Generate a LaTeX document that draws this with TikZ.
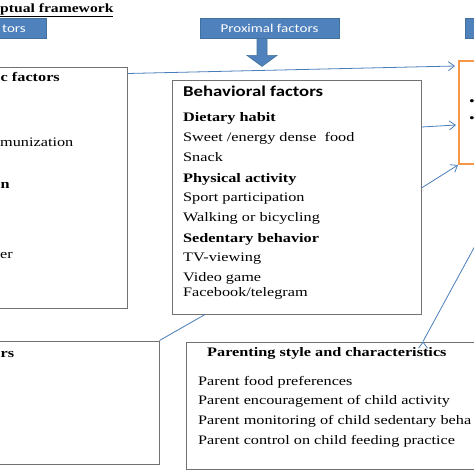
\documentclass[tikz,border=0pt]{standalone}
\usepackage{fontspec}
\setmainfont{Liberation Serif}[FakeStretch=1.25]
\newfontfamily\calibfont{Carlito}[FakeStretch=1.25]
\usepackage{xcolor}
\usepackage{tikz}
\usetikzlibrary{arrows.meta,calc,positioning}

\definecolor{hdrblue}{HTML}{4F81BD}
\definecolor{hdredge}{HTML}{41719C}
\definecolor{linkblue}{HTML}{4A7EBB}
\definecolor{outorange}{HTML}{F79646}
\definecolor{boxgray}{HTML}{767171}

\begin{document}
\begin{tikzpicture}[x=1pt,y=-1pt]
			\tikzstyle{hdr}=[draw=hdredge, fill=hdrblue, line width=0.8pt, inner sep=0pt, minimum height=20pt, text=white, font=\calibfont\fontsize{12}{14}\selectfont]
			\tikzstyle{frame}=[draw=boxgray, line width=1pt, inner sep=0pt]
			\tikzstyle{item}=[anchor=base west, inner sep=0pt, font=\fontsize{13}{15}\selectfont]
			\tikzstyle{head}=[item, font=\bfseries\fontsize{13}{15}\selectfont]
			\tikzstyle{link}=[draw=linkblue, line width=0.8pt]
			
			\useasboundingbox (0,0) rectangle (474,474);
			
			\node[anchor=base west, inner sep=0pt, font=\bfseries\fontsize{12.5}{15}\selectfont] (title) at (0,12.5) {\underline{ptual framework}};
			
			% header boxes
			\node[hdr, minimum width=106pt] (distal) at (-7,28) {};
			\node[anchor=base east, inner sep=0pt, text=white, font=\calibfont\fontsize{12}{14}\selectfont] (distaltxt) at (26,32) {tors};
			\node[hdr, minimum width=139pt] (prox) at (269.5,28) {Proximal factors};
			\node[hdr, minimum width=120pt] (outhdr) at (525,28) {};
			
			\coordinate (proxdown) at ([xshift=-7.5pt]prox.south);
			\filldraw[fill=hdrblue, draw=hdredge, line width=0.6pt] (proxdown) ++(-5,0) -- ++(0,17) -- ++(-10,0) -- ++(15,11) -- ++(15,-11) -- ++(-10,0) -- ++(0,-17) -- cycle;
			
			% outcome
			\node[draw=outorange, line width=2pt, inner sep=0pt, minimum width=120pt, minimum height=103pt] (outcome) at (519,112.5) {};
			\node[anchor=west, inner sep=0pt, font=\fontsize{13}{15}\selectfont] (bul1) at (469,103) {\textbullet};
			\node[anchor=west, inner sep=0pt, font=\fontsize{13}{15}\selectfont] (bul2) at (469,120) {\textbullet};
			
			% frames
			\node[frame, minimum width=137pt, minimum height=241pt] (context) at (58.5,187.5) {};
			\node[frame, minimum width=249pt, minimum height=234pt] (behav) at (296.5,197) {};
			\node[frame, minimum width=169pt, minimum height=123pt] (botleft) at (74.5,402.5) {};
			\node[frame, minimum width=314pt, minimum height=127pt] (parent) at (343,405.5) {};
			
			% left frame
			\node[head] (ctxhead) at (0.5,81) {c factors};
			\node[item] (ctximm) at (0,146) {munization};
			\node[head] (ctxn) at (0.5,188) {n};
			\node[item, anchor=base east] (ctxer) at (13,258) {er};
			\node[head] (botrs) at (0.5,357) {rs};
			
			% behavioral frame
			\node[item, font=\calibfont\bfseries\fontsize{15}{18}\selectfont] (bhead) at (183,96) {Behavioral factors};
			\node[head] (diet) at (183,121) {Dietary habit};
			\node[item] (sweet) at (183,141) {Sweet /energy dense\ \ food};
			\node[item] (snack) at (183,161) {Snack};
			\node[head] (phys) at (183,182) {Physical activity};
			\node[item] (sport) at (183,201) {Sport participation};
			\node[item] (walk) at (183,221) {Walking or bicycling};
			\node[head] (sed) at (183,242) {Sedentary behavior};
			\node[item] (tv) at (183,261) {TV-viewing};
			\node[item] (video) at (183,281) {Video game};
			\node[item] (fb) at (183,296) {Facebook/telegram};
			
			% parenting frame
			\node[head] (phead) at (207,356) {Parenting style and characteristics};
			\node[item] (pfood) at (198,385) {Parent food preferences};
			\node[item] (penc) at (198,404) {Parent encouragement of child activity};
			\node[item] (pmon) at (198,424) {Parent monitoring of child sedentary beha};
			\node[item] (pctl) at (198,444) {Parent control on child feeding practice};
			
			\path[link, -{Straight Barb[length=6pt,width=9pt]}]
			([yshift=-7pt]context.north east) edge ([xshift=-3pt,yshift=-6pt]outcome.north west)
			([yshift=70pt]behav.east) edge ([xshift=-2pt,yshift=-12.5pt]outcome.west)
			([yshift=9pt]behav.east) edge (outcome.south west)
			([xshift=80pt]parent.north) edge (outcome.south)
			;
			\draw[link] ([xshift=-91.5pt]behav.south) -- (botleft.north east);
\end{tikzpicture}
\end{document}
